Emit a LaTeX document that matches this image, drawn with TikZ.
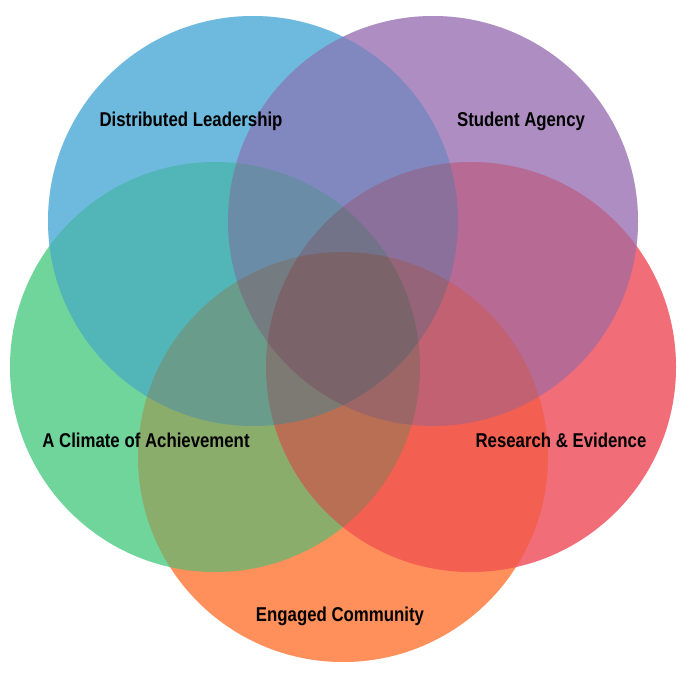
\documentclass[tikz,border=0pt]{standalone}
\usepackage{fontspec}
\setmainfont{Liberation Sans}
\definecolor{cblue}{RGB}{84,174,216}
\definecolor{cpurple}{RGB}{159,122,183}
\definecolor{cgreen}{RGB}{86,206,136}
\definecolor{cred}{RGB}{239,84,96}
\definecolor{corange}{RGB}{255,124,61}
\begin{document}
\begin{tikzpicture}[x=1pt,y=-1pt,
  circ/.style={fill opacity=0.78,draw=none},
  mcirc/.style={fill opacity=0.3,draw=none},
  lbl/.style={font=\fontsize{20}{22}\selectfont\bfseries,xscale=0.84,text=black}]
\useasboundingbox (0,0) rectangle (693,676);
\fill[circ,corange] (343,457) circle (205);
\fill[circ,cgreen] (215,367) circle (205);
\fill[circ,cred] (471,367) circle (205);
\fill[circ,cblue] (253,221) circle (205);
\fill[circ,cpurple] (433,221) circle (205);
\begin{scope}[blend group=multiply]
\fill[mcirc,corange] (343,457) circle (205);
\fill[mcirc,cgreen] (215,367) circle (205);
\fill[mcirc,cred] (471,367) circle (205);
\fill[mcirc,cblue] (253,221) circle (205);
\fill[mcirc,cpurple] (433,221) circle (205);
\end{scope}
\node[lbl] (dl) at (191,121) {Distributed Leadership};
\node[lbl] (sa) at (521,121) {Student Agency};
\node[lbl] (ca) at (146,440) {A Climate of Achievement};
\node[lbl] (re) at (561,440) {Research \& Evidence};
\node[lbl] (ec) at (340,616) {Engaged Community};
\end{tikzpicture}
\end{document}
